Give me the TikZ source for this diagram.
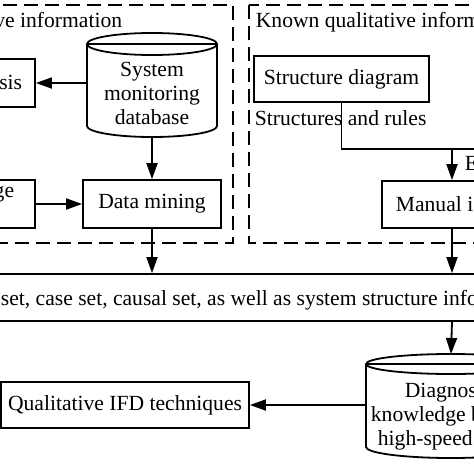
\documentclass[tikz,border=0pt]{standalone}
\usepackage{fontspec}
\setmainfont{Liberation Serif}
\usetikzlibrary{arrows.meta}
\tikzset{
    box/.style={draw, inner sep=0pt},
    dashbox/.style={draw, dash pattern=on 14pt off 7pt},
    flow/.style={-{Triangle[length=16pt,width=11pt]}},
    txt/.style={inner sep=0pt, anchor=base west},
}

\begin{document}
\begin{tikzpicture}[x=1pt, y=-1pt, line width=1.8pt, font=\fontsize{21.6}{24}\selectfont]
\useasboundingbox (0,0) rectangle (474,474);
\clip (0,0) rectangle (474,474);
\fill[white] (0,0) rectangle (474,474);

\draw[dashbox] (-20,5) rectangle (233,243);
\draw[dashbox] (249,5) rectangle (520,243);
\node[txt, anchor=base east] (quanttitle) at (123,27) {ve information};
\node[txt] (qualtitle) at (255,27) {Known qualitative inform};

% monitoring database
\draw (87,44) -- (87,126) arc[start angle=180, end angle=360, x radius=65pt, y radius=11pt] -- (217,44);
\draw (152,44) ellipse[x radius=65pt, y radius=11pt];
\draw (87,44) -- (217,44);
\node[align=center, inner sep=0pt] (sysdb) at (152,93) {System\\monitoring\\database};
\coordinate (sysdbW) at (87,83);
\coordinate (sysdbS) at (152,137);

\node[box, minimum width=95pt, minimum height=48pt] (analysis) at (-12.5,83) {};
\node[txt, anchor=base east] (analysistxt) at (23,89) {sis};
\node[box, minimum width=95pt, minimum height=48pt] (knowledge) at (-12.5,204) {};
\node[txt, anchor=base east] (knowledgetxt) at (15,197) {ge};
\node[box, minimum width=138pt, minimum height=48pt] (datamin) at (152,204) {Data mining};

\node[box, minimum width=175pt, minimum height=46pt] (strdiag) at (341.5,79) {Structure diagram};
\node[txt] (rulestxt) at (254,125) {Structures and rules};
\coordinate (rulesend) at (490,149);
\coordinate (ejoin) at (452,149);
\draw (strdiag.south) |- (rulesend);
\node[txt] (etxt) at (464,170) {E};
\node[box, minimum width=158pt, minimum height=47pt] (manual) at (461,204.5) {};
\node[txt] (manualtxt) at (395,211) {Manual i};

\node[box, minimum width=540pt, minimum height=47pt] (infoset) at (240,297.5) {};
\node[txt] (infotxt) at (0,305) {set, case set, causal set, as well as system structure info};

% diagnosis database
\draw (366,364) -- (366,447) arc[start angle=180, end angle=360, x radius=85pt, y radius=11pt] -- (536,364);
\draw (451,364) ellipse[x radius=85pt, y radius=10pt];
\draw (366,364) -- (536,364);
\node[txt] (diagtxta) at (404,397) {Diagnos};
\node[txt] (diagtxtb) at (370,421) {knowledge b};
\node[txt] (diagtxtc) at (377,445) {high-speed};
\coordinate (diagN) at (451,354);
\coordinate (diagW) at (366,405);

\node[box, minimum width=248pt, minimum height=46pt] (qualifd) at (125,405) {Qualitative IFD techniques};

\draw[flow] (sysdbW) -- (analysis.east |- sysdbW);
\draw[flow] (sysdbS) -- (datamin.north);
\draw[flow] (knowledge.east) -- (datamin.west);
\draw[flow] (datamin.south) -- (datamin.south |- infoset.north);
\draw[flow] (ejoin) -- (ejoin |- manual.north);
\draw[flow] (ejoin |- manual.south) -- (ejoin |- infoset.north);
\draw[flow] (ejoin |- infoset.south) -- (diagN);
\draw[flow] (diagW) -- (qualifd.east |- diagW);
\end{tikzpicture}
\end{document}
